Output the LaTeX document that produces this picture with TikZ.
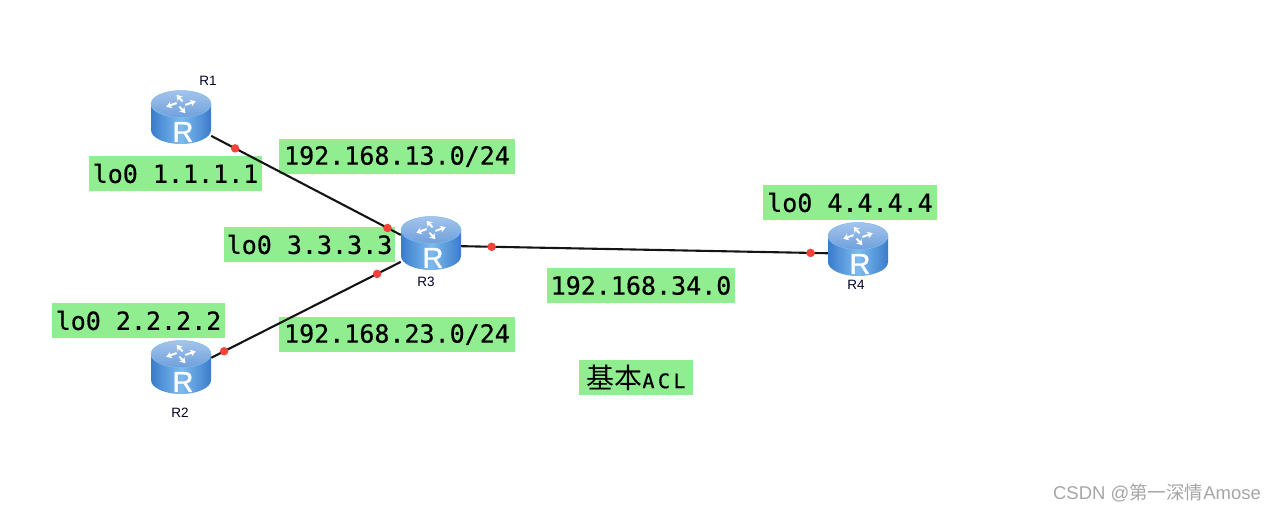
\documentclass[tikz,border=0pt]{standalone}
\usepackage{fontspec}
\setmainfont{Liberation Sans}
\newfontfamily\labfont[RawFeature={embolden=0.6}]{DejaVu Sans Mono}
\newfontfamily\iconfont[RawFeature={embolden=1.2}]{Liberation Sans}
\newfontfamily\cjkfont{Noto Sans CJK SC}
\usetikzlibrary{arrows.meta}
\definecolor{lab}{HTML}{90EE90}
\definecolor{linkc}{HTML}{141414}
\definecolor{dotc}{HTML}{F4433A}
\definecolor{topl}{HTML}{A3C4EC}
\definecolor{topd}{HTML}{6FA0DC}
\definecolor{bodyl}{HTML}{7DBBEE}
\definecolor{bodyd}{HTML}{3A7CCB}
\tikzset{
  x=1pt,y=-1pt,
  routerbox/.style={rectangle,minimum width=60pt,minimum height=54pt,inner sep=0pt},
  labelbox/.style={rectangle,fill=lab,inner sep=0pt,font=\labfont\fontsize{25}{25}\selectfont,text=black,anchor=center},
  tag/.style={font=\fontsize{13.5}{14}\selectfont,text=black!85!blue,inner sep=0pt},
  link/.style={draw=linkc,line width=2.1pt},
  portdot/.style={circle,fill=dotc,inner sep=0pt,minimum size=8.5pt},
  pics/routericon/.style={code={
    \path[left color=bodyd,right color=bodyd,middle color=bodyl]
      (-30,-13) -- (-30,13) .. controls (-30,20.7) and (-16.6,27) .. (0,27)
      .. controls (16.6,27) and (30,20.7) .. (30,13) -- (30,-13) -- cycle;
    \path[top color=topl,bottom color=topd,draw=bodyl,line width=.5pt]
      (0,-13) ellipse[x radius=30,y radius=13.5];
    \foreach \a in {30,120,210,300}{
      \begin{scope}[shift={(0,-13)},yscale=.62,rotate=\a]
        \draw[white,line width=2pt,-{Stealth[length=5.5pt,width=7pt]}] (3,3.5) -- (15,3.5);
      \end{scope}
    }
  }}
}
\begin{document}
\begin{tikzpicture}
\useasboundingbox (0,0) rectangle (1276,512);
% routers
\node[routerbox] (r1) at (181,117) {};
\node[routerbox] (r2) at (181,367) {};
\node[routerbox] (r3) at (431,243) {};
\node[routerbox] (r4) at (858,249) {};
% labels
\node[labelbox,minimum width=173pt,minimum height=35pt] (l1) at (175.5,173.5) {lo0 1.1.1.1};
\node[labelbox,minimum width=236pt,minimum height=35pt] (n13) at (397,156.5) {192.168.13.0/24};
\node[labelbox,minimum width=171pt,minimum height=35pt] (l3) at (309.5,244.5) {lo0 3.3.3.3};
\node[labelbox,minimum width=174pt,minimum height=35pt] (l4) at (850,202.5) {lo0 4.4.4.4};
\node[labelbox,minimum width=188pt,minimum height=35pt] (n34) at (641,285.5) {192.168.34.0};
\node[labelbox,minimum width=173pt,minimum height=35pt] (l2) at (138.5,320.5) {lo0 2.2.2.2};
\node[labelbox,minimum width=236pt,minimum height=35pt] (n23) at (397,334.5) {192.168.23.0/24};
\node[labelbox,minimum width=114pt,minimum height=35pt] (acl) at (636,377.5) {{\cjkfont\fontsize{28}{28}\selectfont 基本}{\fontsize{20}{20}\selectfont A\kern3.5pt C\kern3.5pt L}};
% connectors
\draw[link] (r1.-32) -- node[portdot,pos=.126] (d1) {} node[portdot,pos=.93] (d2) {} (r3.165);
\draw[link] (r2.17) -- node[portdot,pos=.068] (d3) {} node[portdot,pos=.875] (d4) {} (r3.212);
\draw[link] (r3.-6) -- node[portdot,pos=.083] (d5) {} node[portdot,pos=.953] (d6) {} (r4.188);
% icons
\foreach \c in {r1,r2,r3,r4}{
  \pic at (\c) {routericon};
  \node[font=\iconfont\fontsize{29}{29}\selectfont,text=white,inner sep=0pt] (letter\c) at ([xshift=2pt,yshift=-15pt]\c) {R};
}
% router names
\node[tag] (t1) at (208,81) {R1};
\node[tag] (t2) at (180,413) {R2};
\node[tag] (t3) at (426,282) {R3};
\node[tag] (t4) at (856,285) {R4};
% watermark
\node[inner sep=0pt,text=black!35,font=\fontsize{18.5}{19}\selectfont] (wm) at (1157,493) {CSDN @{\cjkfont 第一深情}Amose};
\end{tikzpicture}
\end{document}
